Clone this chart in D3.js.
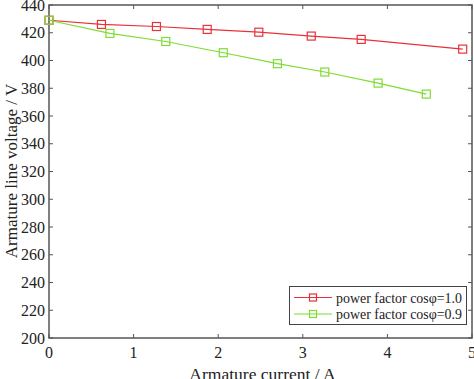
<!DOCTYPE html>
<html><head><meta charset="utf-8">
<script src="https://cdn.jsdelivr.net/npm/d3@7"></script>
<style>body{margin:0;background:#fff}svg{display:block}</style>
</head><body>
<svg id="c" width="474" height="379"></svg>
<script>
const xTicks = [0,1,2,3,4,5];
const yTicks = [200,220,240,260,280,300,320,340,360,380,400,420,440];
const seriesNames = ["power factor cos\u03c6=1.0","power factor cos\u03c6=0.9"];
const redX = [0,0.62,1.27,1.87,2.48,3.10,3.69,4.89];
const redY = [429,426,424.5,422.4,420.4,417.6,415.2,408.2];
const greenX = [0,0.72,1.38,2.06,2.70,3.26,3.89,4.46];
const greenY = [429,419.5,413.7,405.6,397.7,391.7,383.7,375.8];
const colors = ["#e8313a","#7fdc35"];

const svg = d3.select("#c");
const L=49,R=472,T=5,B=338;
const x = d3.scaleLinear().domain([0,5]).range([L,R]);
const y = d3.scaleLinear().domain([200,440]).range([B,T]);
const font = "Liberation Serif";
const axc = "#555";

svg.append("rect").attr("x",L).attr("y",T).attr("width",R-L).attr("height",B-T)
  .attr("fill","none").attr("stroke",axc).attr("stroke-width",1.5);

const tl=4;
xTicks.forEach(t=>{
  svg.append("line").attr("x1",x(t)).attr("x2",x(t)).attr("y1",B).attr("y2",B-tl).attr("stroke",axc);
  svg.append("line").attr("x1",x(t)).attr("x2",x(t)).attr("y1",T).attr("y2",T+tl).attr("stroke",axc);
  svg.append("text").attr("x",x(t)).attr("y",B+20).attr("text-anchor","middle")
    .attr("font-family",font).attr("font-size",16).attr("fill","#222").text(t);
});
yTicks.forEach(t=>{
  svg.append("line").attr("x1",L).attr("x2",L+tl).attr("y1",y(t)).attr("y2",y(t)).attr("stroke",axc);
  svg.append("line").attr("x1",R).attr("x2",R-tl).attr("y1",y(t)).attr("y2",y(t)).attr("stroke",axc);
  svg.append("text").attr("x",L-4).attr("y",y(t)+5.5).attr("text-anchor","end")
    .attr("font-family",font).attr("font-size",16).attr("fill","#222").text(t);
});

svg.append("text").attr("x",(L+R)/2+2).attr("y",380).attr("text-anchor","middle")
  .attr("font-family",font).attr("font-size",17.5).attr("fill","#222").text("Armature current / A");
svg.append("text").attr("transform","translate(17,171) rotate(-90)").attr("text-anchor","middle")
  .attr("font-family",font).attr("font-size",17).attr("fill","#222").text("Armature line voltage / V");

const series = [{xs:redX,ys:redY,c:colors[0]},{xs:greenX,ys:greenY,c:colors[1]}];
const line = d3.line().x(d=>x(d[0])).y(d=>y(d[1]));
series.forEach(s=>{
  const pts = s.xs.map((v,i)=>[v,s.ys[i]]);
  svg.append("path").datum(pts).attr("d",line).attr("fill","none").attr("stroke",s.c).attr("stroke-width",1.2);
  svg.selectAll(null).data(pts).enter().append("rect")
    .attr("x",d=>x(d[0])-4).attr("y",d=>y(d[1])-4).attr("width",8).attr("height",8)
    .attr("fill","none").attr("stroke",s.c).attr("stroke-width",1.2);
});

const lg = svg.append("g");
lg.append("rect").attr("x",289.5).attr("y",286.5).attr("width",177).attr("height",38)
  .attr("fill","#fff").attr("stroke","#444").attr("stroke-width",1);
seriesNames.forEach((n,i)=>{
  const yy = 297.5+i*16.5;
  lg.append("line").attr("x1",294).attr("x2",332).attr("y1",yy).attr("y2",yy).attr("stroke",colors[i]).attr("stroke-width",1.2);
  lg.append("rect").attr("x",309.5).attr("y",yy-3.5).attr("width",7).attr("height",7).attr("fill","none").attr("stroke",colors[i]).attr("stroke-width",1.2);
  lg.append("text").attr("x",336).attr("y",yy+5).attr("font-family",font).attr("font-size",14.5)
    .attr("textLength",126).attr("lengthAdjust","spacingAndGlyphs").attr("fill","#222").text(n);
});
</script>
</body></html>
